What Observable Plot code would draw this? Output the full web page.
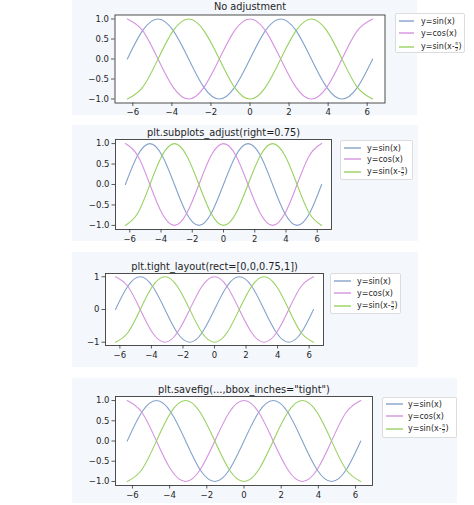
<!DOCTYPE html>
<html>
<head>
<meta charset="utf-8">
<script src="https://cdn.jsdelivr.net/npm/d3@7"></script>
<script src="https://cdn.jsdelivr.net/npm/@observablehq/plot@0.6"></script>
<style>
  html, body { margin: 0; padding: 0; background: #fff; }
  #root { position: relative; width: 474px; height: 505px; overflow: hidden; background: #fff; font-family: "DejaVu Sans", sans-serif; }
  .bg { position: absolute; background: #f4f7fc; }
  .panel { position: absolute; }
  .legend { position: absolute; background: #fff; border: 1px solid #dcdcdc; border-radius: 2px; box-sizing: border-box; font-family: "DejaVu Sans", sans-serif; font-size: 8px; color: #262626; }
  .entry { position: absolute; left: 0; height: 12px; display: flex; align-items: center; white-space: nowrap; }
  .swatch { display: block; flex: none; }
  .frac { display: inline-flex; flex-direction: column; align-items: center; font-size: 4.4px; line-height: 4.4px; vertical-align: middle; margin: 0 0.5px; }
  .frac .num { border-bottom: 0.5px solid #262626; }
</style>
</head>
<body>
<div id="root"></div>
<script>
// ---- data ----
const xs = [-6.28, -5.50, -4.71, -3.93, -3.14, -2.36, -1.57, -0.79, 0, 0.79, 1.57, 2.36, 3.14, 3.93, 4.71, 5.50, 6.28];
const sinVals   = [0, 0.71, 1, 0.71, 0, -0.71, -1, -0.71, 0, 0.71, 1, 0.71, 0, -0.71, -1, -0.71, 0];
const cosVals   = [1, 0.71, 0, -0.71, -1, -0.71, 0, 0.71, 1, 0.71, 0, -0.71, -1, -0.71, 0, 0.71, 1];
const shiftVals = [-1, -0.71, 0, 0.71, 1, 0.71, 0, -0.71, -1, -0.71, 0, 0.71, 1, 0.71, 0, -0.71, -1];
const seriesNames = ["y=sin(x)", "y=cos(x)", "y=sin(x-π/2)"];
const seriesColors = ["#84a2cb", "#d592e0", "#98d160"];
const titles = ["No adjustment", "plt.subplots_adjust(right=0.75)", "plt.tight_layout(rect=[0,0,0.75,1])", "plt.savefig(...,bbox_inches=\"tight\")"];
const xTicks = [-6, -4, -2, 0, 2, 4, 6];
const yTicksHalf = [-1, -0.5, 0, 0.5, 1];
const yTicksInt = [-1, 0, 1];

// ---- layout (pixels) ----
const panels = [
  {bg: {x: 72, y: 0,   w: 345, h: 115}, frame: {l: 114.5, r: 384.5, t: 14.5, b: 102.5}, titleY: 6.5,   yTicks: yTicksHalf, fmt: ".1f",
   legend: {x: 395, y: 13, w: 70, h: 40, rows: [19.5, 32.3, 45.5], lx: 3, lw: 15, tx: 25}},
  {bg: {x: 72, y: 125, w: 346, h: 116}, frame: {l: 115, r: 331, t: 139, b: 229}, titleY: 132,     yTicks: yTicksHalf, fmt: ".1f",
   legend: {x: 340, y: 140, w: 73, h: 40, rows: [146.7, 158.3, 170.7], lx: 3, lw: 17, tx: 26}},
  {bg: {x: 72, y: 252, w: 346, h: 115}, frame: {l: 105, r: 323, t: 273, b: 345}, titleY: 266,     yTicks: yTicksInt, fmt: "d",
   legend: {x: 330, y: 273, w: 71, h: 41, rows: [280, 292, 305], lx: 3, lw: 17, tx: 26}},
  {bg: {x: 72, y: 378, w: 385, h: 125}, frame: {l: 115, r: 372, t: 396, b: 485}, titleY: 389,     yTicks: yTicksHalf, fmt: ".1f",
   legend: {x: 382, y: 397, w: 75, h: 41, rows: [403, 415, 428], lx: 3, lw: 17, tx: 25}}
];

const rows = [];
xs.forEach((x, i) => {
  rows.push({x, y: sinVals[i], series: seriesNames[0]});
  rows.push({x, y: cosVals[i], series: seriesNames[1]});
  rows.push({x, y: shiftVals[i], series: seriesNames[2]});
});

const root = document.getElementById("root");
const SVGNS = "http://www.w3.org/2000/svg";

panels.forEach((p, k) => {
  const bg = document.createElement("div");
  bg.className = "bg";
  Object.assign(bg.style, {left: p.bg.x + "px", top: p.bg.y + "px", width: p.bg.w + "px", height: p.bg.h + "px"});
  root.appendChild(bg);

  const W = p.bg.w, H = p.bg.h;
  const mL = p.frame.l - p.bg.x, mR = (p.bg.x + W) - p.frame.r;
  const mT = p.frame.t - p.bg.y, mB = (p.bg.y + H) - p.frame.b;

  const chart = Plot.plot({
    width: W, height: H,
    marginLeft: mL, marginRight: mR, marginTop: mT, marginBottom: mB,
    style: {background: "transparent", fontFamily: "DejaVu Sans, sans-serif", fontSize: "8.5px", color: "#262626", overflow: "visible"},
    x: {domain: [-6.912, 6.912]},
    y: {domain: [-1.1, 1.1]},
    color: {domain: seriesNames, range: seriesColors},
    marks: [
      Plot.frame({fill: "#fff"}),
      Plot.line(rows, {x: "x", y: "y", z: "series", stroke: "series", curve: "natural", strokeWidth: 1.1}),
      Plot.frame({stroke: "#3a3a3a", strokeWidth: 0.9}),
      Plot.axisX({ticks: xTicks, tickFormat: d3.format("d"), tickSize: 3.5, tickPadding: 2.5, label: null, stroke: "#333", strokeWidth: 0.8, fill: "#1f1f1f"}),
      Plot.axisY({ticks: p.yTicks, tickFormat: d3.format(p.fmt), tickSize: 3.5, tickPadding: 2.5, label: null, stroke: "#333", strokeWidth: 0.8, fill: "#1f1f1f"}),
      Plot.text([titles[k]], {text: d => d, frameAnchor: "top", dy: -(p.frame.t - p.titleY), lineAnchor: "middle", fontSize: 9.8, fill: "#1f1f1f"})
    ]
  });
  chart.classList.add("panel");
  Object.assign(chart.style, {left: p.bg.x + "px", top: p.bg.y + "px", maxWidth: "none"});
  root.appendChild(chart);

  // legend
  const lg = p.legend;
  const box = document.createElement("div");
  box.className = "legend";
  Object.assign(box.style, {left: lg.x + "px", top: lg.y + "px", width: lg.w + "px", height: lg.h + "px"});
  seriesNames.forEach((name, i) => {
    const e = document.createElement("div");
    e.className = "entry";
    e.style.top = Math.round(lg.rows[i] - lg.y - 6) + "px";
    const sw = document.createElementNS(SVGNS, "svg");
    sw.setAttribute("class", "swatch");
    sw.setAttribute("width", lg.lw);
    sw.setAttribute("height", 4);
    sw.style.marginLeft = lg.lx + "px";
    sw.style.marginRight = (lg.tx - lg.lx - lg.lw) + "px";
    const ln = document.createElementNS(SVGNS, "line");
    ln.setAttribute("x1", 0); ln.setAttribute("x2", lg.lw);
    ln.setAttribute("y1", 2); ln.setAttribute("y2", 2);
    ln.setAttribute("stroke", seriesColors[i]);
    ln.setAttribute("stroke-width", 1.4);
    sw.appendChild(ln);
    e.appendChild(sw);
    const t = document.createElement("span");
    if (name.includes("π/2")) {
      t.appendChild(document.createTextNode("y=sin(x-"));
      const f = document.createElement("span");
      f.className = "frac";
      const n = document.createElement("span"); n.className = "num"; n.textContent = "π";
      const d = document.createElement("span"); d.textContent = "2";
      f.appendChild(n); f.appendChild(d);
      t.appendChild(f);
      t.appendChild(document.createTextNode(")"));
    } else {
      t.textContent = name;
    }
    e.appendChild(t);
    box.appendChild(e);
  });
  root.appendChild(box);
});
</script>
</body>
</html>
